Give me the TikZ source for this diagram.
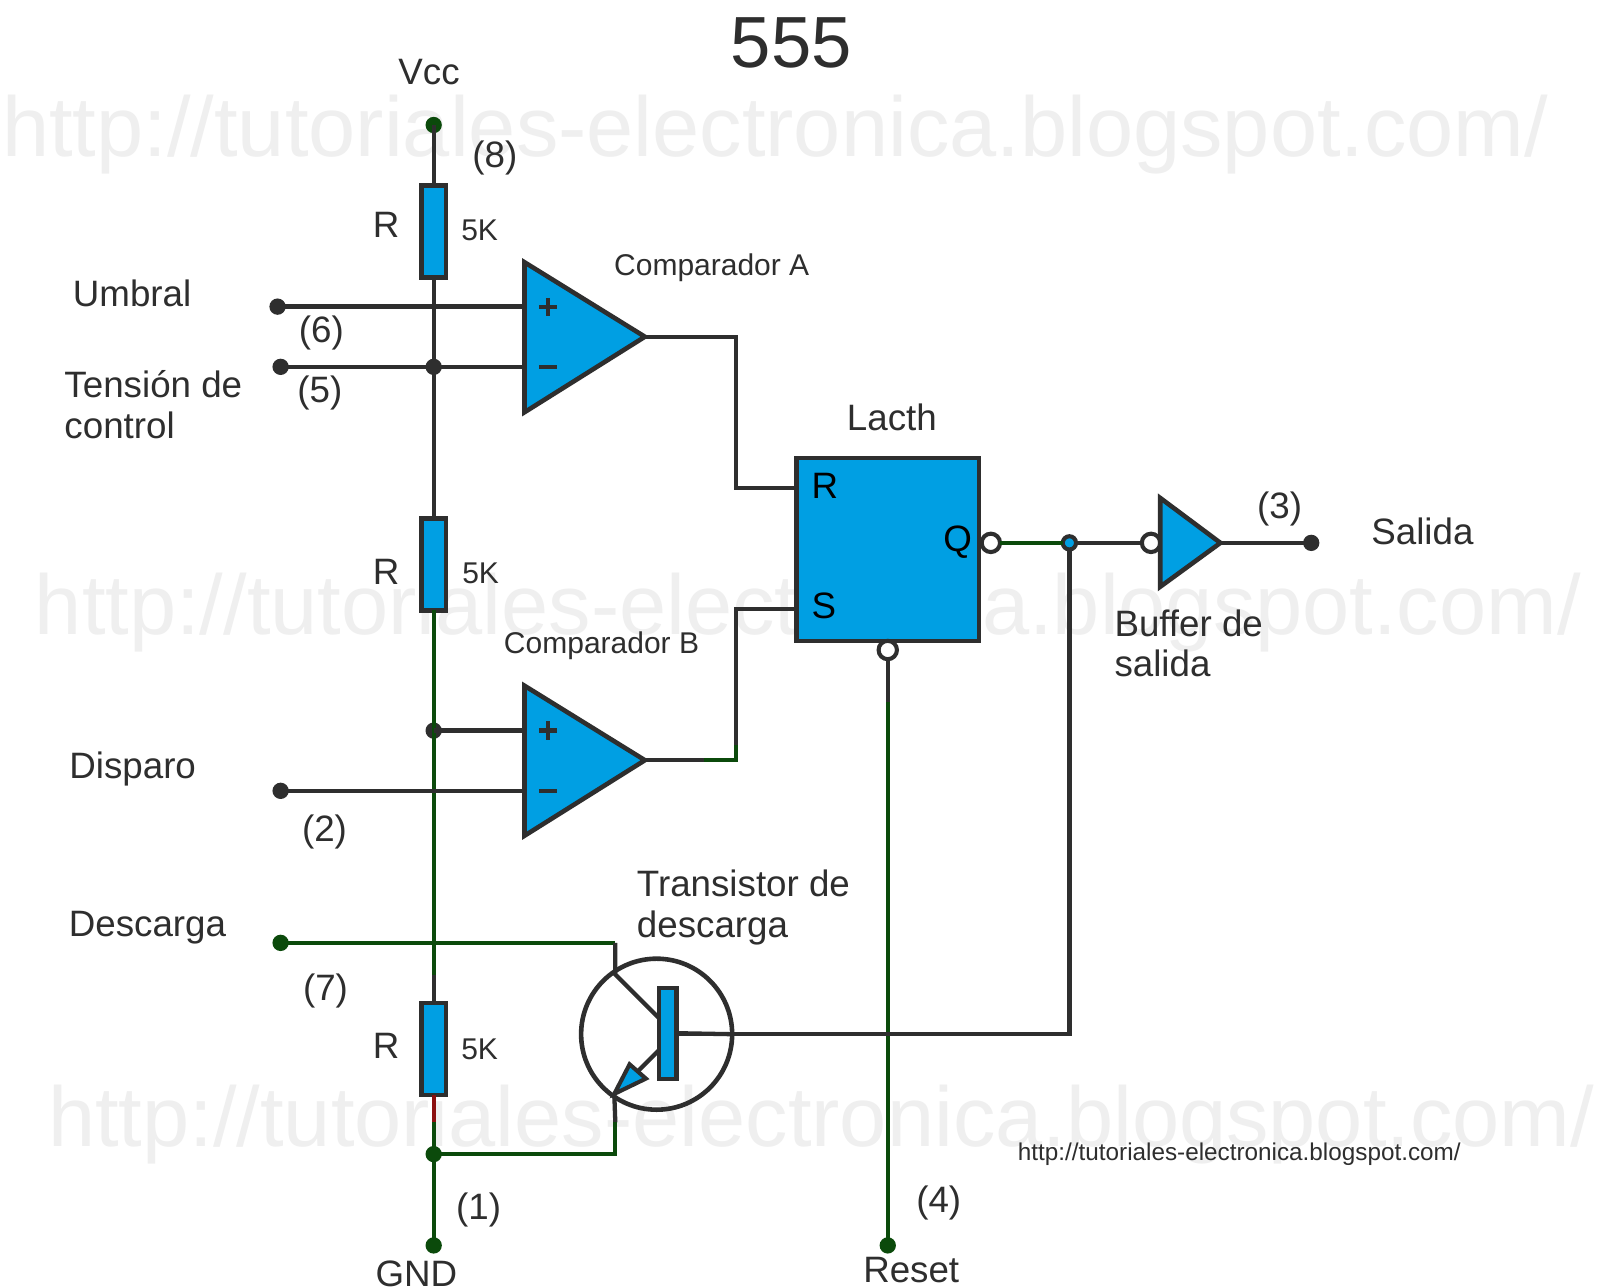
\documentclass[tikz,border=0pt]{standalone}
\usepackage{fontspec}
\setmainfont{Liberation Sans}
\definecolor{ink}{HTML}{2E2E2E}
\definecolor{wireg}{HTML}{0B4A0B}
\definecolor{wirer}{HTML}{8B0F0F}
\definecolor{cyanf}{HTML}{009FE3}
\definecolor{mark}{HTML}{EFEFEF}
\newcommand{\fs}[1]{\fontsize{#1}{1.2\dimexpr #1pt\relax}\selectfont}
\tikzset{
  wire/.style={draw=ink,line width=4.2pt,line join=miter},
  gwire/.style={draw=wireg,line width=4.2pt,line join=miter},
  rwire/.style={draw=wirer,line width=4.2pt},
  blk/.style={draw=ink,line width=4.5pt,fill=cyanf,line join=miter},
  res/.style={rectangle,draw=ink,line width=4.5pt,fill=cyanf,minimum width=24pt,minimum height=90pt,inner sep=0pt,outer sep=0pt},
  dot/.style={circle,fill=ink,inner sep=0pt,outer sep=0pt,minimum size=16pt},
  gdot/.style={circle,fill=wireg,inner sep=0pt,outer sep=0pt,minimum size=16pt},
  bub/.style={circle,draw=ink,line width=4pt,fill=white,inner sep=0pt,outer sep=0pt,minimum size=18pt},
  lab/.style={text=ink,inner sep=0pt,font=\fs{36}},
  sm/.style={text=ink,inner sep=0pt,font=\fs{29.4}},
  pin/.style={text=black,inner sep=0pt,font=\fs{36}},
  wm/.style={text=mark,inner sep=0pt,anchor=west,font=\fs{83.1}},
  two/.style={text=ink,inner sep=0pt,anchor=west,align=left,font=\fontsize{36}{40}\selectfont},
}
\begin{document}
\begin{tikzpicture}[x=1pt,y=-1pt]
\useasboundingbox[fill=white] (0,0) rectangle (1568,1262);
% watermarks
\node[wm] (wm1) at (2,132) {http://tutoriales-electronica.blogspot.com/};
\node[wm] (wm2) at (34,600) {http://tutoriales-electronica.blogspot.com/};
\node[wm] (wm3) at (47,1102) {http://tutoriales-electronica.blogspot.com/};

% named points
\coordinate (aout) at (632,330);
\coordinate (ap) at (514,300.5);
\coordinate (am) at (514,359.5);
\coordinate (bout) at (632,745);
\coordinate (bp) at (514,716);
\coordinate (bm) at (514,775);
\coordinate (ak1) at (721,330);
\coordinate (ak2) at (721,478);
\coordinate (bk0) at (690,745);
\coordinate (bk1) at (721,745);
\coordinate (bk2) at (721,597);
\coordinate (lr) at (781,478);
\coordinate (ls) at (781,597);
\coordinate (c1) at (603,924);
\coordinate (c2) at (603,955);
\coordinate (bar1) at (646,998);
\coordinate (bar2) at (646,1029);
\coordinate (e0) at (602,1072);
\coordinate (e1) at (603,1100);
\coordinate (e2) at (603,1131);
\coordinate (arrb) at (625,1050);
\coordinate (tb) at (663,1013);
\coordinate (k) at (1048,1013);
\coordinate (bufout) at (1196,532);
\coordinate (rmid) at (870,688);
\coordinate (rr) at (425,1100);

% nodes
\node[gdot] (vcc) at (425,122.5) {};
\node[dot] (umb) at (272,300.5) {};
\node[dot] (ten) at (275,359.5) {};
\node[dot] (j1) at (425,359.5) {};
\node[dot] (j2) at (425,716) {};
\node[dot] (dis) at (275,775) {};
\node[gdot] (des) at (275,924) {};
\node[gdot] (j3) at (425,1131) {};
\node[gdot] (gnd) at (425,1220.5) {};
\node[gdot] (rst) at (870,1220.5) {};
\node[dot] (sal) at (1285,532) {};

\node[res] (r1) at (425,227) {};
\node[res] (r2) at (425,553) {};
\node[res] (r3) at (425,1028) {};

% wires
\draw[wire] (vcc.center) -- (r1.north);
\draw[wire] (r1.south) -- (j1.center) -- (r2.north);
\draw[gwire] (r2.south) -- (r3.north);
\draw[wire] (425,955) -- (r3.north);
\draw[rwire] (r3.south) -- (rr);
\draw[gwire] (rr) -- (j3.center) -- (gnd.center);
\draw[wire] (umb.center) -- (ap);
\draw[wire] (ten.center) -- (am);
\draw[wire] (j2.center) -- (bp);
\draw[wire] (dis.center) -- (bm);
\draw[wire] (aout) -- (ak1) -- (ak2) -- (lr);
\draw[wire] (ls) -- (bk2) -- (bk1);
\draw[wire] (bout) -- (bk0);
\draw[gwire] (bk0) -- (bk1) -- (721,730);
\draw[gwire] (des.center) -- (c1);
\draw[wire] (c1) -- (c2) -- (bar1);
\draw[wire] (e0) -- (e1);
\draw[gwire] (e1) -- (e2) -- (j3.center);
\draw[gwire] (rmid) -- (rst.center);

% comparators
\draw[blk] (514,257) -- (514,404) -- (aout) -- cycle;
\draw[blk] (514,672) -- (514,819) -- (bout) -- cycle;
\draw[wire] (528,301) -- (546,301) (537,292) -- (537,310);
\draw[wire] (528,359.5) -- (546,359.5);
\draw[wire] (528,716) -- (546,716) (537,707) -- (537,725);
\draw[wire] (528,775) -- (546,775);

% latch
\node[rectangle,draw=ink,line width=4.5pt,fill=cyanf,minimum width=179pt,minimum height=179pt,inner sep=0pt,outer sep=0pt] (latch) at (870,538.5) {};
\node[bub] (bq) at (971,532) {};
\node[bub] (brst) at (870,637) {};
\draw[wire] (brst.south) -- (rmid);
\node[circle,draw=ink,line width=4pt,fill=cyanf,inner sep=0pt,outer sep=0pt,minimum size=13pt] (jq) at (1048,532) {};
\draw[gwire] (bq.east) -- (jq.west);
\draw[wire] (jq.south) -- (k) -- (tb);
\node[bub] (bb) at (1128,532) {};
\draw[wire] (jq.east) -- (bb.west);
\draw[wire] (bufout) -- (sal.center);
\draw[blk] (1137,488) -- (1137,575) -- (bufout) -- cycle;

% transistor
\node[circle,draw=ink,line width=4.5pt,inner sep=0pt,outer sep=0pt,minimum size=148pt] (tc) at (643.5,1013.5) {};
\node[rectangle,draw=ink,line width=4pt,fill=cyanf,minimum width=17pt,minimum height=89pt,inner sep=0pt,outer sep=0pt] (tbar) at (654.5,1012.5) {};
\draw[wire] (bar2) -- (arrb);
\draw[blk,line width=4pt] (e0) -- (617,1043) -- (633,1057) -- cycle;
\draw[wire] (tc.east) -- (tbar.east);

% labels
\node[text=ink,inner sep=0pt,font=\fs{71}] (title) at (775.5,42) {555};
\node[lab] (tvcc) at (420.5,71) {Vcc};
\node[lab] (t8) at (485,155) {(8)};
\node[lab] (tr1) at (378.5,220) {R};
\node[sm] (t5k1) at (470,226) {5K};
\node[sm] (tca) at (697.5,262) {Comparador A};
\node[lab] (tumb) at (129.5,287.5) {Umbral};
\node[lab] (t6) at (315,326) {(6)};
\node[lab] (t5) at (313.5,385) {(5)};
\node[two] (tten) at (63,396.5) {Tensión de\\control};
\node[lab] (tlat) at (874,409) {Lacth};
\node[pin] (pr) at (808.5,476) {R};
\node[pin] (ps) at (807.5,594) {S};
\node[pin] (pq) at (938.5,531) {Q};
\node[lab] (t3) at (1254,499) {(3)};
\node[lab] (tsal) at (1394,521) {Salida};
\node[two] (tbuf) at (1092,630.5) {Buffer de\\salida};
\node[sm] (tcb) at (589.5,632.5) {Comparador B};
\node[lab] (tr2) at (378.5,560) {R};
\node[sm] (t5k2) at (471,562) {5K};
\node[lab] (tdis) at (130,754) {Disparo};
\node[lab] (t2) at (318,815.5) {(2)};
\node[lab] (tdes) at (144.5,909) {Descarga};
\node[lab] (t7) at (319,971.5) {(7)};
\node[two] (ttra) at (624,889) {Transistor de\\descarga};
\node[lab] (tr3) at (378.5,1025) {R};
\node[sm] (t5k3) at (470,1028) {5K};
\node[lab] (t1) at (469,1186) {(1)};
\node[lab] (t4) at (920,1179) {(4)};
\node[lab] (tgnd) at (408,1248) {GND};
\node[lab] (trst) at (893,1245) {Reset};
\node[text=ink,inner sep=0pt,font=\fs{23.8}] (turl) at (1214.5,1131.5) {http://tutoriales-electronica.blogspot.com/};
\end{tikzpicture}
\end{document}
